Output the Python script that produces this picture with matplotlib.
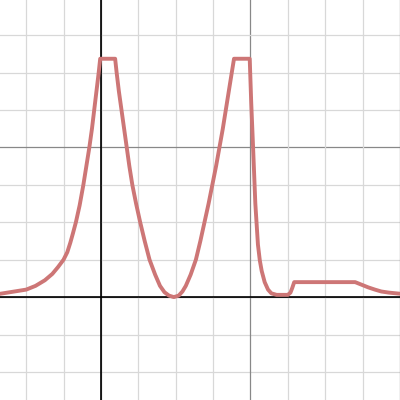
import matplotlib
matplotlib.use("Agg")
import matplotlib.pyplot as plt
import numpy as np

xs = [-2.75,-2.5,-2.25,-2.0,-1.75,-1.5,-1.3,-1.15,-1.0,-0.9,-0.82,-0.75,-0.67,-0.57,-0.47,-0.39,-0.31,-0.24,-0.18,-0.12,-0.06,-0.02,
      0.38,0.42,0.48,0.55,0.62,0.69,0.76,0.84,0.94,1.05,1.17,1.3,1.45,1.58,1.7,1.82,1.95,2.08,2.18,2.27,2.4,2.54,2.66,2.77,2.88,2.98,3.08,3.17,3.26,3.34,3.42,3.5,3.56,
      3.98,4.02,4.07,4.13,4.2,4.25,4.3,4.38,4.47,4.56,4.7,5.0,5.07,5.12,5.17,
      6.8,6.9,7.0,7.15,7.33,7.5,7.7,8.1]
ys = [0.08,0.12,0.16,0.2,0.3,0.45,0.62,0.8,1.0,1.2,1.45,1.7,2.0,2.45,3.0,3.5,4.0,4.5,5.0,5.5,6.0,6.37,
      6.37,6.0,5.5,5.0,4.5,4.0,3.5,3.0,2.5,2.0,1.5,1.0,0.6,0.3,0.13,0.04,0.0,0.04,0.15,0.3,0.6,1.0,1.5,2.0,2.5,3.0,3.5,4.0,4.5,5.0,5.5,6.0,6.37,
      6.37,5.2,4.0,2.5,1.4,0.98,0.7,0.4,0.2,0.1,0.06,0.06,0.12,0.25,0.4,
      0.4,0.36,0.32,0.26,0.2,0.15,0.12,0.08]

fig = plt.figure(figsize=(4,4), dpi=100)
ax = fig.add_axes([0,0,1,1])
xmin, xmax, ymin, ymax = -2.70, 8.00, -2.75, 7.94
for v in np.arange(-2, 9, 1):
    ax.axvline(v, color='#888888' if v % 4 == 0 else '#d8d8d8', lw=0.9, zorder=0)
    ax.axhline(v, color='#888888' if v % 4 == 0 else '#d8d8d8', lw=0.9, zorder=0)
ax.axvline(0, color='black', lw=1.2, zorder=1)
ax.axhline(0, color='black', lw=1.2, zorder=1)
ax.plot(xs, ys, color='#cd7676', lw=2.8, zorder=2, solid_joinstyle='round', solid_capstyle='round')
ax.set_xlim(xmin, xmax); ax.set_ylim(ymin, ymax)
ax.axis('off')
fig.savefig('out.png')
